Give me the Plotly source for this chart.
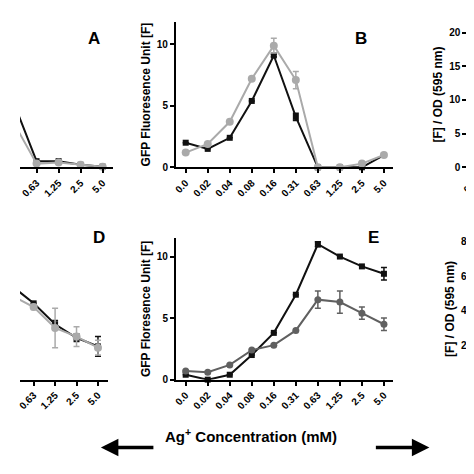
import plotly.graph_objects as go

conc = ["0.0", "0.02", "0.04", "0.08", "0.16", "0.31", "0.63", "1.25", "2.5", "5.0"]
conc_c = ["0.00", "0.02", "0.04", "0.08", "0.16", "0.31", "0.63", "1.25", "2.5", "5.0"]

a_black = [None, None, None, None, None, 5.1, 0.5, 0.5, 0.2, 0.05]
a_gray = [None, None, None, None, None, 3.5, 0.3, 0.4, 0.2, 0.05]

b_black = [2.0, 1.5, 2.4, 5.4, 9.1, 4.1, 0.0, 0.0, 0.0, 1.0]
b_black_err = [0, 0, 0, 0, 0.1, 0.3, 0, 0, 0, 0]
b_gray = [1.2, 1.9, 3.7, 7.2, 9.9, 7.1, 0.0, 0.0, 0.3, 1.0]
b_gray_err = [0, 0, 0, 0, 0.6, 0.7, 0, 0, 0, 0]

c_black = [3.5]
c_gray = [2.0]

d_black = [None, None, None, None, None, 7.6, 6.2, 4.5, 3.4, 2.7]
d_black_err = [0, 0, 0, 0, 0, 0, 0, 0.3, 0.3, 0.8]
d_gray = [None, None, None, None, None, 6.8, 5.9, 4.2, 3.5, 2.6]
d_gray_err = [0, 0, 0, 0, 0, 0, 0.2, 1.6, 0.8, 0.6]

e_black = [0.4, 0.0, 0.4, 2.0, 3.8, 6.9, 11.0, 10.0, 9.2, 8.6]
e_black_err = [0, 0, 0, 0, 0, 0, 0.2, 0, 0, 0.5]
e_gray = [0.7, 0.6, 1.2, 2.4, 2.8, 4.0, 6.5, 6.3, 5.4, 4.5]
e_gray_err = [0, 0, 0, 0, 0, 0, 0.7, 0.9, 0.5, 0.5]

f_gray = [0.5]

W = 474
fig = go.Figure()
tf = dict(family="Liberation Sans", size=10, color="black", weight="bold")

def px(x):
    return x / W

def py(y):
    return 1 - y / W

def panel(n, xdom, xr, ydom, yr, labels, ytickvals, title, series, showy=True):
    xa = "x" if n == 1 else f"x{n}"
    ya = "y" if n == 1 else f"y{n}"
    for vals, err, color, sym, size in series:
        ey = dict(type="data", array=err, color=color, thickness=1.5, width=3) if err else dict(visible=False)
        fig.add_trace(go.Scatter(
            x=list(range(len(vals))), y=vals, xaxis=xa, yaxis=ya, mode="lines+markers",
            line=dict(color=color, width=2), marker=dict(color=color, symbol=sym, size=size),
            error_y=ey, connectgaps=False, showlegend=False, cliponaxis=False))
    key = "" if n == 1 else str(n)
    fig.layout["xaxis" + key] = dict(domain=xdom, range=xr, anchor=ya, tickvals=list(range(len(labels))),
        ticktext=labels, tickangle=-45, showline=True, linecolor="black", linewidth=2,
        ticks="outside", ticklen=4, tickwidth=2, tickcolor="black", showgrid=False,
        zeroline=False, tickfont=tf)
    fig.layout["yaxis" + key] = dict(domain=ydom, range=yr, anchor=xa, tickvals=ytickvals,
        showline=showy, linecolor="black", linewidth=2, ticks="outside" if showy else "",
        ticklen=4, tickwidth=2, tickcolor="black", showgrid=False, zeroline=False,
        showticklabels=showy, tickfont=tf,
        title=dict(text=title, font=dict(family="Liberation Sans", size=12, color="black", weight="bold"), standoff=4))

top = [py(160), py(12)]
bot = [py(376), py(232)]
BLK, GRY, DGR = "#111111", "#aaaaaa", "#606060"

panel(1, [0, px(95)], [6 + (0 - 17) / 22.6, 6 + (95 - 17) / 22.6], top, [0, 11.84], conc, [0, 5, 10], "",
      [(a_black, None, BLK, "square", 6), (a_gray, None, GRY, "circle", 8)], showy=False)
panel(2, [px(160), px(383)], [-10 / 22.6, 213 / 22.6], top, [0, 11.84], conc, [0, 5, 10],
      "GFP Fluoresence Unit [F]",
      [(b_black, b_black_err, BLK, "square", 6), (b_gray, b_gray_err, GRY, "circle", 8)])
panel(3, [px(460), 1], [-10 / 22.6, 14 / 22.6], top, [0, 21.6], conc, [0, 5, 10, 15, 20],
      "[F] / OD (595 nm)",
      [(c_black, None, BLK, "square", 6), (c_gray, None, GRY, "circle", 8)])
panel(4, [0, px(90)], [6 + (0 - 14) / 22, 6 + (90 - 14) / 22], bot, [0, 11.5], conc, [0, 5, 10], "",
      [(d_black, d_black_err, BLK, "square", 6), (d_gray, d_gray_err, GRY, "circle", 8)], showy=False)
panel(5, [px(160), px(383)], [-10 / 22.6, 213 / 22.6], bot, [0, 11.5], conc, [0, 5, 10],
      "GFP Floresence Unit [F]",
      [(e_black, e_black_err, BLK, "square", 6), (e_gray, e_gray_err, DGR, "circle", 7)])
panel(6, [px(472), 1], [-0.1, 0.1], bot, [0, 82], conc_c, [0, 20, 40, 60, 80],
      "[F] / OD (595 nm)",
      [(f_gray, None, DGR, "circle", 7)])

lf = dict(family="Liberation Sans", size=17, color="black", weight="bold")
for t, x, y in [("A", 68, 17), ("B", 358, 17), ("D", 73, 231), ("E", 370, 231)]:
    fig.add_annotation(text=t, x=px(x), y=py(y), xref="paper", yref="paper", showarrow=False, font=lf)

fig.add_annotation(text="Ag<sup>+</sup> Concentration (mM)", x=px(237), y=py(445), xref="paper", yref="paper",
                   showarrow=False, font=dict(family="Liberation Sans", size=15, color="black", weight="bold"))
for head, tail in [(83, 137), (420, 365)]:
    fig.add_annotation(x=px(head), y=py(445), xref="paper", yref="paper", ax=tail - head, ay=0,
                       text="", showarrow=True, arrowhead=2,
                       arrowsize=1, arrowwidth=3.5, arrowcolor="black")

fig.update_layout(width=474, height=474, margin=dict(l=0, r=0, t=0, b=0),
                  plot_bgcolor="white", paper_bgcolor="white")
fig.write_html("out.html")
